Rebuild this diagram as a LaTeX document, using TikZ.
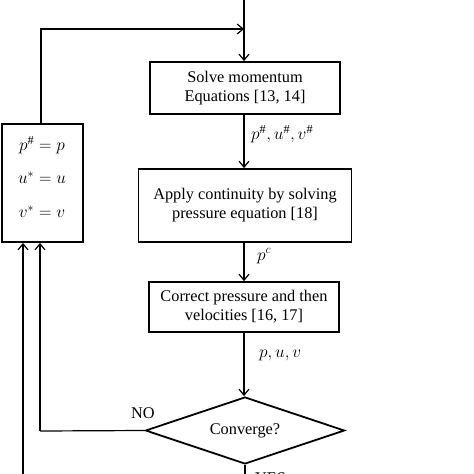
\documentclass[tikz,border=0pt]{standalone}
\usepackage{fontspec}
\setmainfont{Liberation Serif}
\usetikzlibrary{arrows.meta,shapes.geometric}
\begin{document}
\begin{tikzpicture}[x=1pt,y=-1pt,
  box/.style={draw,line width=1.8pt,rectangle,inner sep=0pt,align=center,font=\fontsize{16.3}{19}\selectfont},
  dec/.style={draw,line width=1.8pt,diamond,inner sep=0pt,font=\fontsize{16.3}{19}\selectfont},
  conn/.style={line width=1.2pt},
  arr/.style={conn,-{Straight Barb[length=6pt,width=10pt,line width=1.2pt]}},
  lbl/.style={font=\fontsize{16.3}{19}\selectfont,inner sep=0pt},
  mlbl/.style={font=\fontsize{17.5}{19}\selectfont,inner sep=0pt}]
\clip (0,0) rectangle (474,474);
\fill[white] (0,0) rectangle (474,474);
\node[box,minimum width=190pt,minimum height=52pt] (solve) at (245,88) {Solve momentum\\Equations [13, 14]};
\node[box,minimum width=213pt,minimum height=73pt] (apply) at (245,205.5) {Apply continuity by solving\\pressure equation [18]};
\node[box,minimum width=190pt,minimum height=50pt] (correct) at (244,307) {Correct pressure and then\\velocities [16, 17]};
\node[dec,minimum width=199pt,minimum height=67pt,aspect=3] (conv) at (245,430.5) {Converge?};
\node[box,minimum width=81pt,minimum height=118pt] (lb) at (42.5,183) {};
\node[mlbl] (e1) at (42,145) {$p^{\#}=p$};
\node[mlbl] (e2) at (42,178) {$u^{*}=u$};
\node[mlbl] (e3) at (42,212) {$v^{*}=v$};
\coordinate (top) at (244,0);
\coordinate (j) at (244,29);
\coordinate (c1) at (41,29);
\coordinate (n1) at (40,431);
\coordinate (bot) at (23,474);
\coordinate (yb) at (245,474);
\draw[arr] (top) -- (solve.north -| top);
\draw[arr] (c1 |- lb.north) -- (c1) -- (j);
\draw[arr] (solve.south -| top) -- (apply.north -| top);
\draw[arr] (apply.south -| top) -- (correct.north -| top);
\draw[arr] (correct.south -| top) -- (conv.north -| top);
\draw[conn] (conv.west) -- (n1);
\draw[arr] (n1) -- (n1 |- lb.south);
\draw[arr] (bot) -- (bot |- lb.south);
\draw[conn] (conv.south) -- (yb);
\node[mlbl,anchor=west] (l1) at (251,134) {$p^{\#},u^{\#},v^{\#}$};
\node[mlbl,anchor=west] (l2) at (257,256) {$p^{c}$};
\node[mlbl,anchor=west] (l3) at (259,355) {$p,u,v$};
\node[lbl] (no) at (143,413) {NO};
\node[lbl,anchor=west] (yes) at (255,478) {YES};
\end{tikzpicture}
\end{document}
